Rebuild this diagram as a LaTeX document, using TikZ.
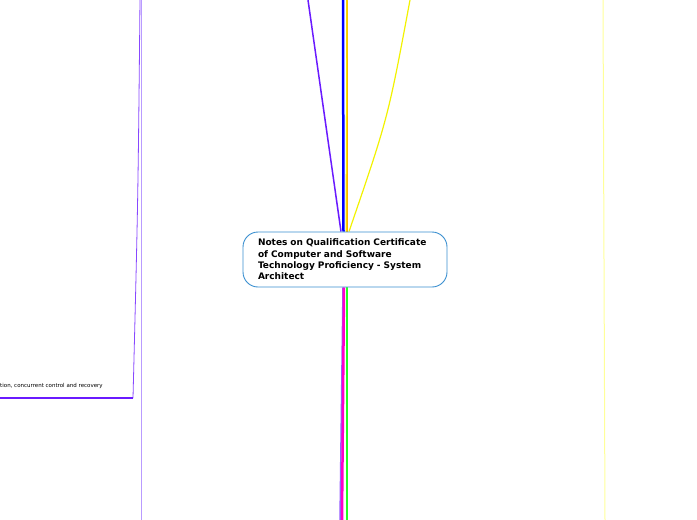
\documentclass[tikz,border=0pt]{standalone}
\usepackage{fontspec}
\setmainfont{DejaVu Sans}
\usepackage{tikz}
\usetikzlibrary{backgrounds}

\definecolor{rootblue}{HTML}{3A8FD0}
\definecolor{branchpurple}{HTML}{6A1AFF}
\definecolor{lightpurple}{HTML}{B99BFF}
\definecolor{branchblue}{HTML}{0000FF}
\definecolor{branchorange}{HTML}{FFB000}
\definecolor{branchyellow}{HTML}{F2F200}
\definecolor{lightyellow}{HTML}{FFFF99}
\definecolor{branchmagenta}{HTML}{FF00C8}
\definecolor{branchgreen}{HTML}{22FF22}

\tikzset{
	root/.style={draw=rootblue, line width=0.9pt, rounded corners=15pt, fill=white, minimum width=204pt, minimum height=55pt, text width=174pt, align=left, font=\fontsize{9}{11.3}\selectfont\bfseries},
	leaf/.style={font=\fontsize{5.5}{6}\selectfont, inner sep=0pt, anchor=base west}
}

\begin{document}
\begin{tikzpicture}[x=1pt, y=-1pt]
	\useasboundingbox (0, 0) rectangle (697, 520);
	\coordinate (PurpleTop) at (308, 0);
	\coordinate (BlueTop) at (343, 0);
	\coordinate (OrangeTop) at (347, 0);
	\coordinate (YellowTop) at (410, 0);
	\coordinate (MagentaEnd) at (342, 520);
	\coordinate (VioletEnd) at (340, 520);
	\coordinate (GreenEnd) at (347, 520);
	\coordinate (LeftTop) at (140, 0);
	\coordinate (LeftBend) at (133, 398);
	\coordinate (LeftEnd) at (0, 398);
	\coordinate (PaleTop) at (141, 0);
	\coordinate (PaleEnd) at (141, 520);
	\coordinate (YellowRightTop) at (603, 0);
	\coordinate (YellowRightEnd) at (605, 520);
	% long lines at the sides
	\draw [lightpurple, line width=1pt] (PaleTop) -- (PaleEnd);
	\draw [lightyellow, line width=1pt] (YellowRightTop) -- (YellowRightEnd);
	\draw [branchpurple!80, line width=0.8pt] (LeftTop) .. controls (138, 200) .. (LeftBend);
	\draw [branchpurple, line width=1.3pt] (LeftBend) -- (LeftEnd);
	\node [leaf] (Recovery) at (0, 387.5) {tion, concurrent control and recovery};
	% the root and its branches
	\node [root] (Root) at (345, 259.5) {Notes on Qualification Certificate\\of Computer and Software\\Technology Proficiency - System\\Architect};
	\begin{scope}[on background layer]
		\draw [branchpurple, line width=1.5pt] ([xshift=-4pt]Root.north) -- (PurpleTop);
		\draw [branchorange, line width=2.2pt] ([xshift=2pt]Root.north) -- (OrangeTop);
		\draw [branchyellow, line width=1pt] ([xshift=1pt]Root.north) -- (OrangeTop);
		\draw [branchblue, line width=2.5pt] ([xshift=-1.5pt]Root.north) -- (BlueTop);
		\draw [branchyellow, line width=1.2pt] ([xshift=4pt]Root.north) .. controls (388, 118) .. (YellowTop);
		\draw [branchgreen, line width=2pt] ([xshift=2pt]Root.south) -- (GreenEnd);
		\draw [branchpurple!70, line width=1.5pt] ([xshift=-2pt]Root.south) -- (VioletEnd);
		\draw [branchmagenta, line width=2.5pt] ([xshift=-1pt]Root.south) -- (MagentaEnd);
	\end{scope}
\end{tikzpicture}
\end{document}
